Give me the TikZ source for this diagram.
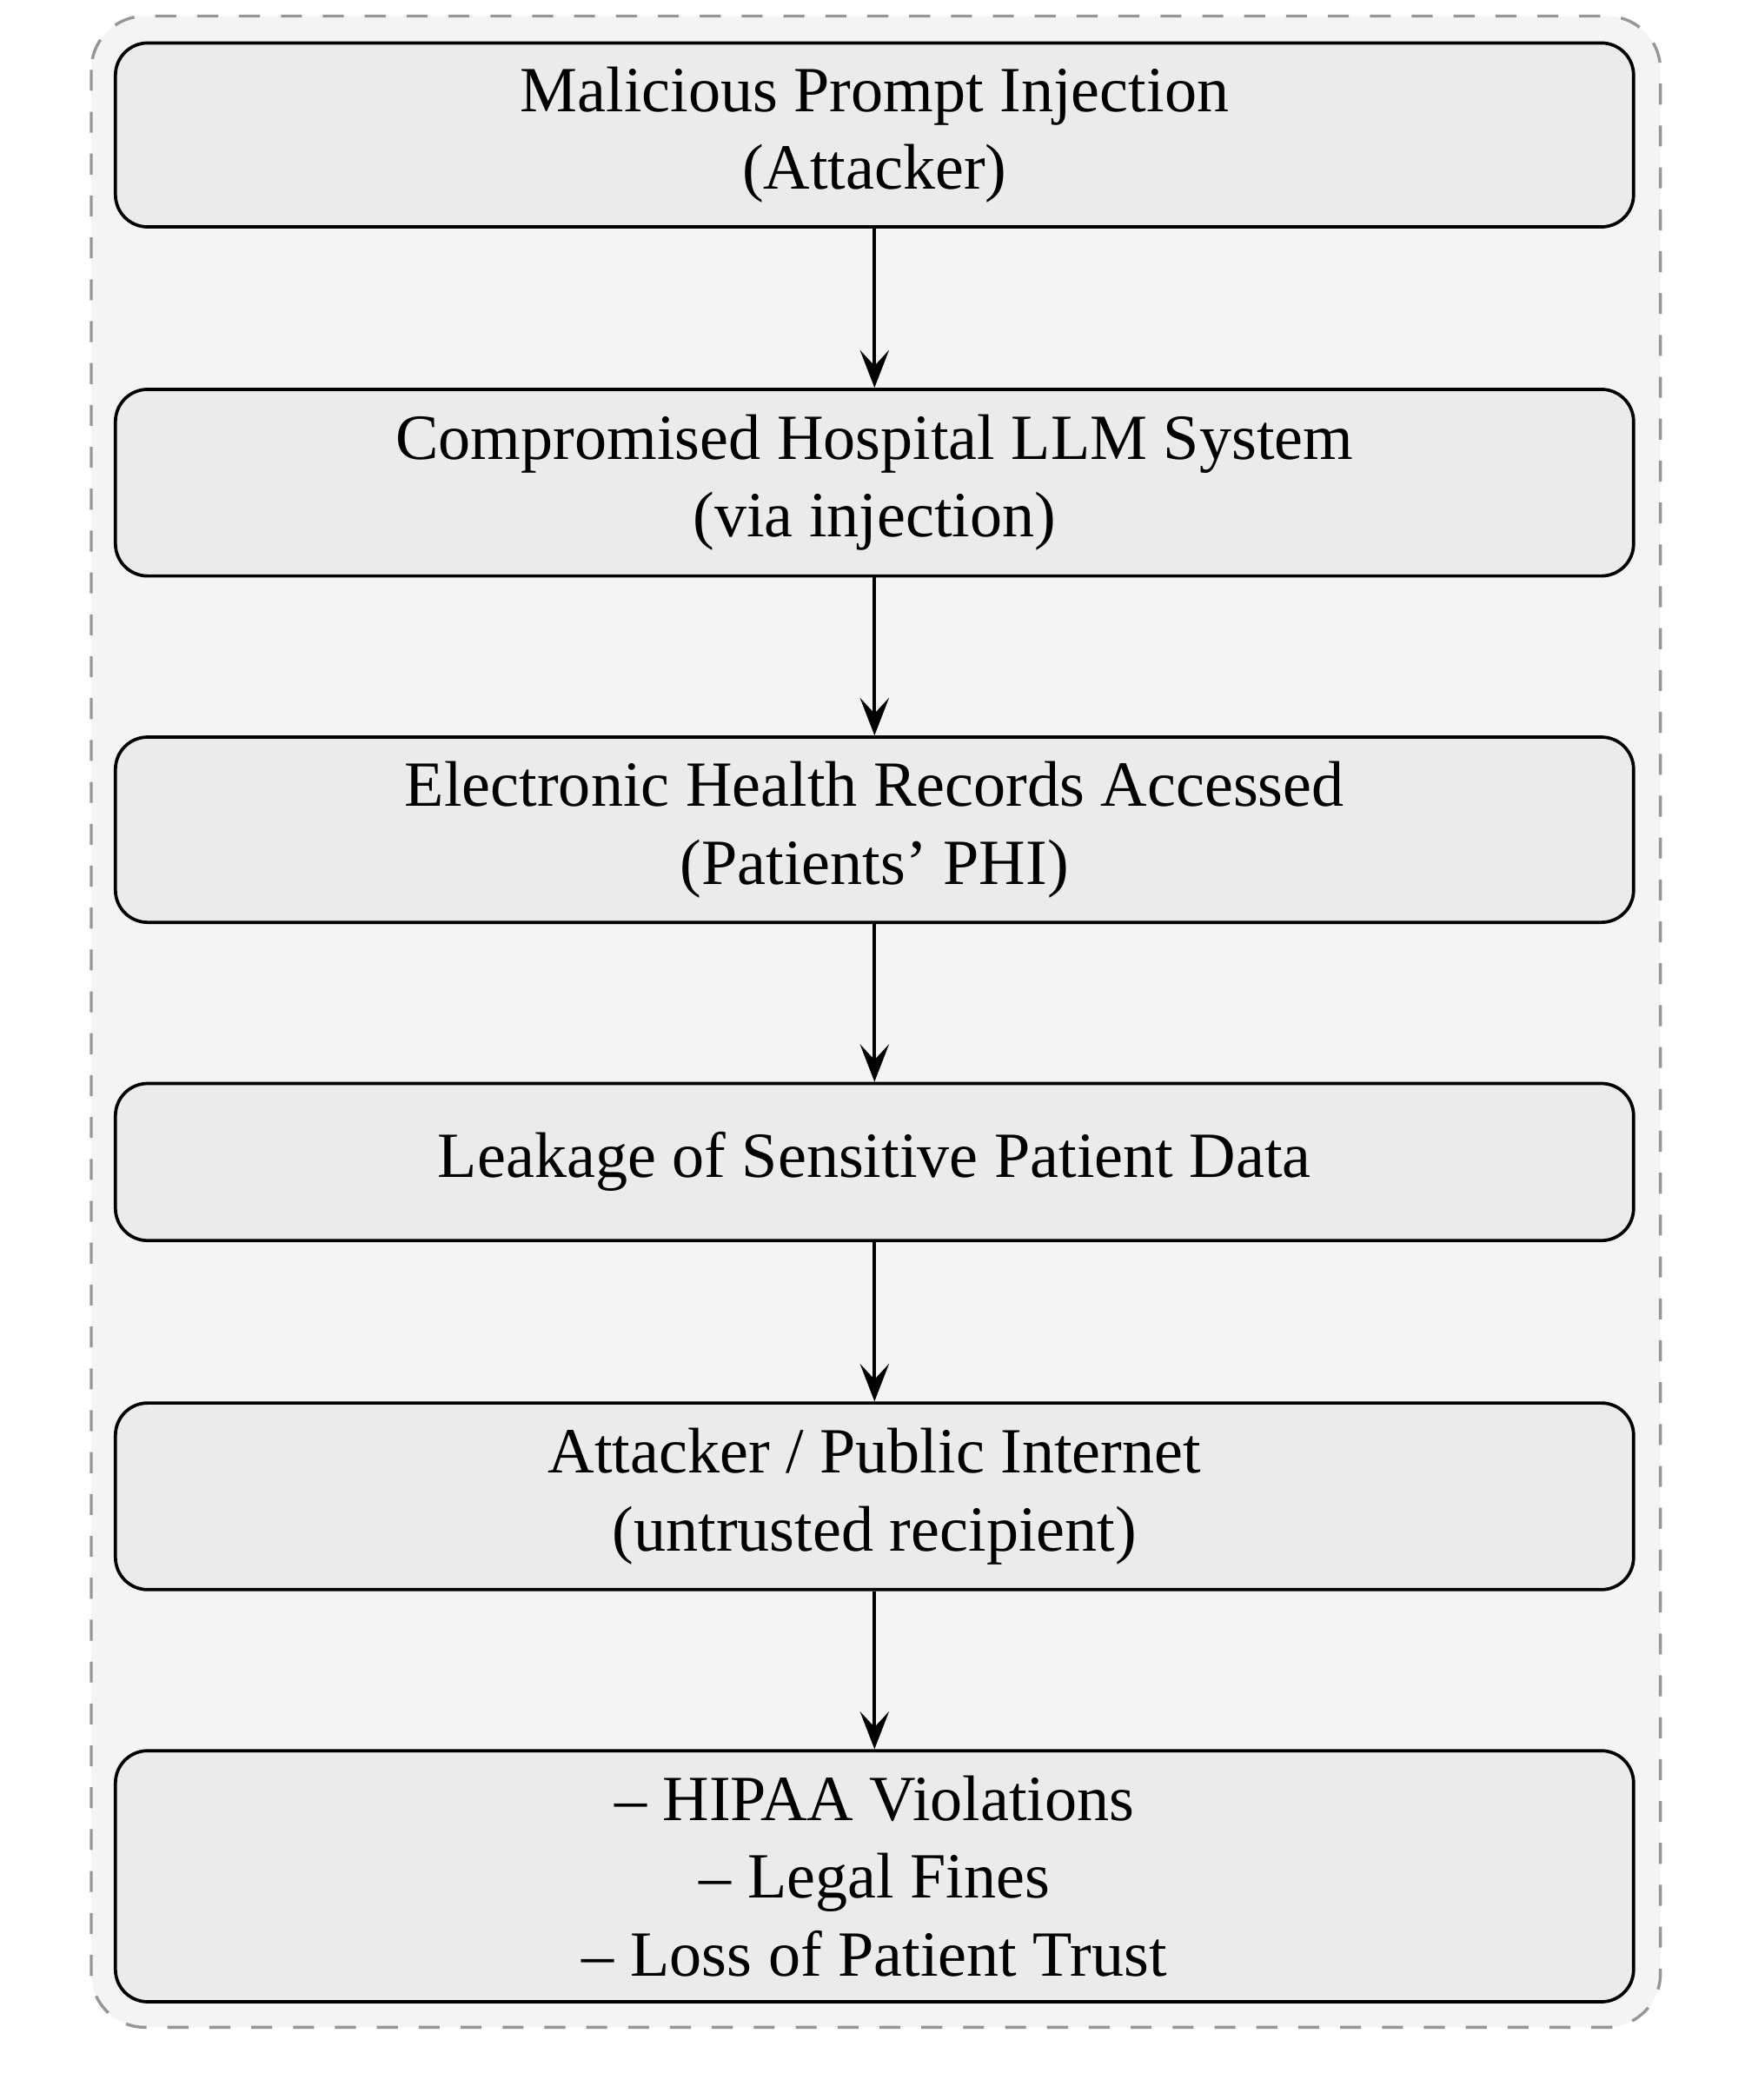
\documentclass[tikz,border=0pt]{standalone}
\usepackage{fontspec}
\setmainfont{Liberation Serif}
\usetikzlibrary{arrows.meta}
\definecolor{outerfill}{HTML}{F4F4F4}
\definecolor{boxfill}{HTML}{EBEBEB}
\definecolor{dashgray}{HTML}{969696}
\tikzset{
  stepbox/.style={draw=black, line width=0.6pt, fill=boxfill, rounded corners=6pt,
    minimum width=282.75pt, align=center, inner sep=0pt,
    font=\fontsize{12}{14.5}\selectfont},
  flow/.style={draw=black, line width=0.65pt, -{Stealth[length=7pt,width=5.4pt,inset=2.9pt]}},
  frame/.style={draw=dashgray, line width=0.55pt, dash pattern=on 3.9pt off 3.9pt,
    fill=outerfill, rounded corners=10pt}
}
\begin{document}
\begin{tikzpicture}[x=1pt,y=1pt]
\useasboundingbox (0,0) rectangle (325,-391.04);
\draw[frame] (17,-3) rectangle (309.25,-377.5);
\node[stepbox, minimum height=34.25pt] (n1) at (162.875,-25.125) {Malicious Prompt Injection\\(Attacker)};
\node[stepbox, minimum height=34.75pt] (n2) at (162.875,-89.875) {Compromised Hospital LLM System\\(via injection)};
\node[stepbox, minimum height=34.5pt] (n3) at (162.875,-154.5) {Electronic Health Records Accessed\\(Patients' PHI)};
\node[stepbox, minimum height=29.25pt] (n4) at (162.875,-216.375) {Leakage of Sensitive Patient Data};
\node[stepbox, minimum height=34.75pt] (n5) at (162.875,-278.625) {Attacker / Public Internet\\(untrusted recipient)};
\node[stepbox, minimum height=46.75pt] (n6) at (162.875,-349.375) {-- HIPAA Violations\\-- Legal Fines\\-- Loss of Patient Trust};
\draw[flow] (n1) -- (n2);
\draw[flow] (n2) -- (n3);
\draw[flow] (n3) -- (n4);
\draw[flow] (n4) -- (n5);
\draw[flow] (n5) -- (n6);
\end{tikzpicture}
\end{document}
